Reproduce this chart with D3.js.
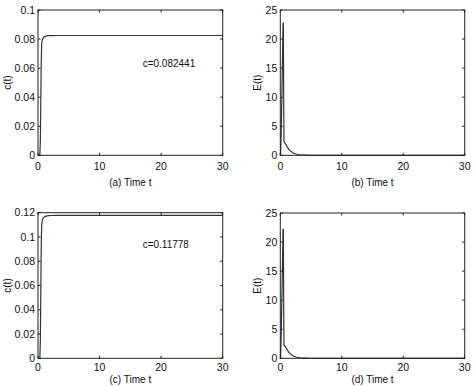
<!DOCTYPE html>
<html>
<head>
<meta charset="utf-8">
<script src="https://cdn.jsdelivr.net/npm/d3@7"></script>
<style>
  body { margin: 0; background: #fff; }
  svg { display: block; }
  text { font-family: "Liberation Sans", Arial, sans-serif; fill: #111; }
</style>
</head>
<body>
<svg id="fig" width="474" height="387"></svg>
<script>
// data
var timeTicks = [0, 10, 20, 30];

var cTimeA = [0, 0.3, 0.38, 0.45, 0.52, 0.6, 0.7, 0.85, 1.0, 1.3, 1.7, 2.2, 3, 30];
var cValsA = [0, 0, 0.01, 0.035, 0.062, 0.0765, 0.0795, 0.0808, 0.0815, 0.082, 0.0823, 0.0824, 0.082441, 0.082441];

var cTimeC = [0, 0.3, 0.38, 0.45, 0.52, 0.6, 0.7, 0.85, 1.0, 1.3, 1.7, 2.2, 3, 30];
var cValsC = [0, 0, 0.015, 0.05, 0.09, 0.11, 0.1138, 0.1155, 0.1165, 0.1172, 0.1176, 0.1777, 0.11778, 0.11778];

var eTime = [0, 0.05, 0.15, 0.25, 0.35, 0.45, 0.5, 0.55, 0.6, 0.75, 0.9, 1.1, 1.4, 1.8, 2.2, 2.7, 3.2, 3.8, 4.5, 5.5, 30];
var eValsB = [0, 0.3, 4, 10, 16, 22.7, 22.7, 10, 2.4, 2.1, 1.9, 1.5, 1.0, 0.6, 0.35, 0.18, 0.09, 0.04, 0.015, 0.003, 0];
var eValsD = [0, 0.3, 4, 10, 16, 22.2, 22.2, 10, 2.3, 2.1, 1.9, 1.5, 1.0, 0.6, 0.35, 0.18, 0.09, 0.04, 0.015, 0.003, 0];

var cTicksA = [0, 0.02, 0.04, 0.06, 0.08, 0.1];
var cTicksC = [0, 0.02, 0.04, 0.06, 0.08, 0.1, 0.12];
var eTicks = [0, 5, 10, 15, 20, 25];

cValsC[11] = 0.1177; // typo fix, value read as 0.1177

var svg = d3.select('#fig');

var panels = [
  { left: 38, right: 222.7, top: 10, bottom: 155.3, t: cTimeA, v: cValsA, ymax: 0.1, yticks: cTicksA,
    ylab: 'c(t)', ylabX: 7, xlab: '(a) Time t', tickOff: 14.5, titleOff: 30.5, note: 'c=0.082441', noteT: 17, noteV: 0.0605 },
  { left: 280.3, right: 464.7, top: 10, bottom: 155.3, t: eTime, v: eValsB, ymax: 25, yticks: eTicks,
    ylab: 'E(t)', ylabX: 257, xlab: '(b) Time t', tickOff: 14.5, titleOff: 30.5 },
  { left: 38, right: 222.7, top: 212.7, bottom: 358.3, t: cTimeC, v: cValsC, ymax: 0.12, yticks: cTicksC,
    ylab: 'c(t)', ylabX: 7, xlab: '(c) Time t', tickOff: 12.5, titleOff: 24.5, note: 'c=0.11778', noteT: 17, noteV: 0.091 },
  { left: 280.3, right: 464.7, top: 213, bottom: 358.3, t: eTime, v: eValsD, ymax: 25, yticks: eTicks,
    ylab: 'E(t)', ylabX: 257, xlab: '(d) Time t', tickOff: 12.5, titleOff: 24.5 }
];

panels.forEach(function (p) {
  var x = d3.scaleLinear().domain([0, 30]).range([p.left, p.right]);
  var y = d3.scaleLinear().domain([0, p.ymax]).range([p.bottom, p.top]);
  var g = svg.append('g');

  // curve
  var pts = p.t.map(function (d, i) { return [d, p.v[i]]; });
  g.append('path')
    .datum(pts)
    .attr('fill', 'none')
    .attr('stroke', '#333')
    .attr('stroke-width', 1.2)
    .attr('d', d3.line().x(function (d) { return x(d[0]); }).y(function (d) { return y(d[1]); }));

  // box
  g.append('rect')
    .attr('x', p.left).attr('y', p.top)
    .attr('width', p.right - p.left).attr('height', p.bottom - p.top)
    .attr('fill', 'none').attr('stroke', '#222').attr('stroke-width', 1);

  // inward ticks on all four sides, matlab style
  var tl = 2.5;
  timeTicks.forEach(function (d) {
    g.append('line').attr('x1', x(d)).attr('x2', x(d)).attr('y1', p.bottom).attr('y2', p.bottom - tl).attr('stroke', '#222');
    g.append('line').attr('x1', x(d)).attr('x2', x(d)).attr('y1', p.top).attr('y2', p.top + tl).attr('stroke', '#222');
    g.append('text').attr('x', x(d)).attr('y', p.bottom + p.tickOff)
      .attr('text-anchor', 'middle').attr('font-size', 10.5).text(d);
  });
  p.yticks.forEach(function (d) {
    g.append('line').attr('x1', p.left).attr('x2', p.left + tl).attr('y1', y(d)).attr('y2', y(d)).attr('stroke', '#222');
    g.append('line').attr('x1', p.right).attr('x2', p.right - tl).attr('y1', y(d)).attr('y2', y(d)).attr('stroke', '#222');
    g.append('text').attr('x', p.left - 3).attr('y', y(d)).attr('dy', '0.35em')
      .attr('text-anchor', 'end').attr('font-size', 10.5).text(d);
  });

  // labels
  g.append('text').attr('x', (p.left + p.right) / 2).attr('y', p.bottom + p.titleOff)
    .attr('text-anchor', 'middle').attr('font-size', 10).text(p.xlab);
  g.append('text')
    .attr('transform', 'translate(' + p.ylabX + ',' + ((p.top + p.bottom) / 2) + ') rotate(-90)')
    .attr('text-anchor', 'middle').attr('dy', '0.35em').attr('font-size', 10).text(p.ylab);

  if (p.note) {
    g.append('text').attr('x', x(p.noteT)).attr('y', y(p.noteV))
      .attr('font-size', 10).text(p.note);
  }
});
</script>
</body>
</html>
